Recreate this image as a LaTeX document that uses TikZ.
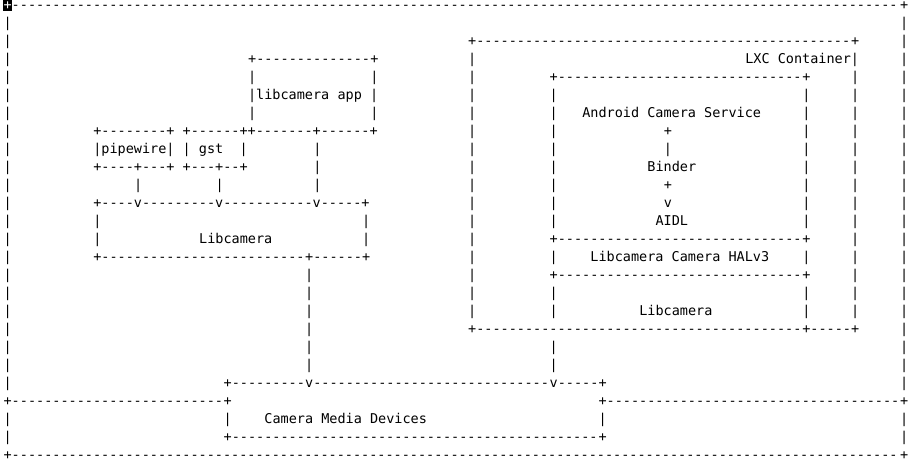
\documentclass[tikz,border=0pt]{standalone}
\usepackage{fontspec}
\setmonofont{DejaVu Sans Mono}
\ExplSyntaxOn
\cs_new:Npn \asciidashes #1 {\prg_replicate:nn{#1}{-}}
\ExplSyntaxOff
\tikzset{txt/.style={anchor=mid west,inner sep=0pt,font=\ttfamily\fontsize{13.5}{13.5}\selectfont}}
\newcommand\T[3]{\node[txt] (n#1-#2) at ({3.4+8.15*#2},{-(7.5+18*#1)}) {#3};}
\newcommand\Hd[3]{\node[txt] (h#1-#2) at ({3.4+8.15*#2},{-(7.5+18*#1)}) {\asciidashes{#3}};}
\begin{document}
\begin{tikzpicture}[x=1pt,y=1pt]
\useasboundingbox (0,0) rectangle (923,-476);
\fill[black] (3,0) rectangle (11.5,-11);
\node[txt,text=white] (n0-0) at (3.4,-7.5) {+};
\Hd{0}{1}{109} \T{0}{110}{+}
\foreach \r in {1,...,21,23,24} {\T{\r}{0}{|}\T{\r}{110}{|}}
\T{22}{0}{+}\T{22}{110}{+}
% LXC container
\T{2}{57}{+}\Hd{2}{58}{46}\T{2}{104}{+}
\T{3}{91}{LXC~Container|}
\foreach \r in {3,...,17} {\T{\r}{57}{|}}
\foreach \r in {4,...,17} {\T{\r}{104}{|}}
% inner box
\foreach \r in {4,13,15} {\T{\r}{67}{+}\Hd{\r}{68}{30}\T{\r}{98}{+}}
\foreach \r in {5,...,12,14,16,17} {\T{\r}{67}{|}\T{\r}{98}{|}}
\T{6}{71}{Android~Camera~Service}
\T{7}{81}{+}\T{8}{81}{|}\T{9}{79}{Binder}\T{10}{81}{+}\T{11}{81}{v}\T{12}{80}{AIDL}
\T{14}{72}{Libcamera~Camera~HALv3}
\T{17}{78}{Libcamera}
\T{18}{57}{+}\Hd{18}{58}{40}\T{18}{98}{+}\Hd{18}{99}{5}\T{18}{104}{+}
\T{19}{67}{|}\T{20}{67}{|}
% libcamera app
\T{3}{30}{+}\Hd{3}{31}{14}\T{3}{45}{+}
\T{4}{30}{|}\T{4}{45}{|}
\T{5}{30}{|libcamera~app~|}
\T{6}{30}{|}\T{6}{45}{|}
\T{7}{11}{+--------+~+------++-------+------+}
\T{8}{11}{|pipewire|~|~gst~~|}\T{8}{38}{|}
\T{9}{11}{+----+---+~+---+--+}\T{9}{38}{|}
\T{10}{16}{|}\T{10}{26}{|}\T{10}{38}{|}
\T{11}{11}{+----v---------v-----------v-----+}
\T{12}{11}{|}\T{12}{44}{|}
\T{13}{11}{|}\T{13}{24}{Libcamera}\T{13}{44}{|}
\T{14}{11}{+}\Hd{14}{12}{25}\T{14}{37}{+}\Hd{14}{38}{6}\T{14}{44}{+}
\foreach \r in {15,...,20} {\T{\r}{37}{|}}
% media devices
\T{21}{27}{+}\Hd{21}{28}{9}\T{21}{37}{v}\Hd{21}{38}{29}\T{21}{67}{v}\Hd{21}{68}{5}\T{21}{73}{+}
\Hd{22}{1}{26}\T{22}{27}{+}\T{22}{73}{+}\Hd{22}{74}{36}
\T{23}{27}{|}\T{23}{32}{Camera~Media~Devices}\T{23}{73}{|}
\T{24}{27}{+}\Hd{24}{28}{45}\T{24}{73}{+}
\T{25}{0}{+}\Hd{25}{1}{109}\T{25}{110}{+}
\end{tikzpicture}
\end{document}
